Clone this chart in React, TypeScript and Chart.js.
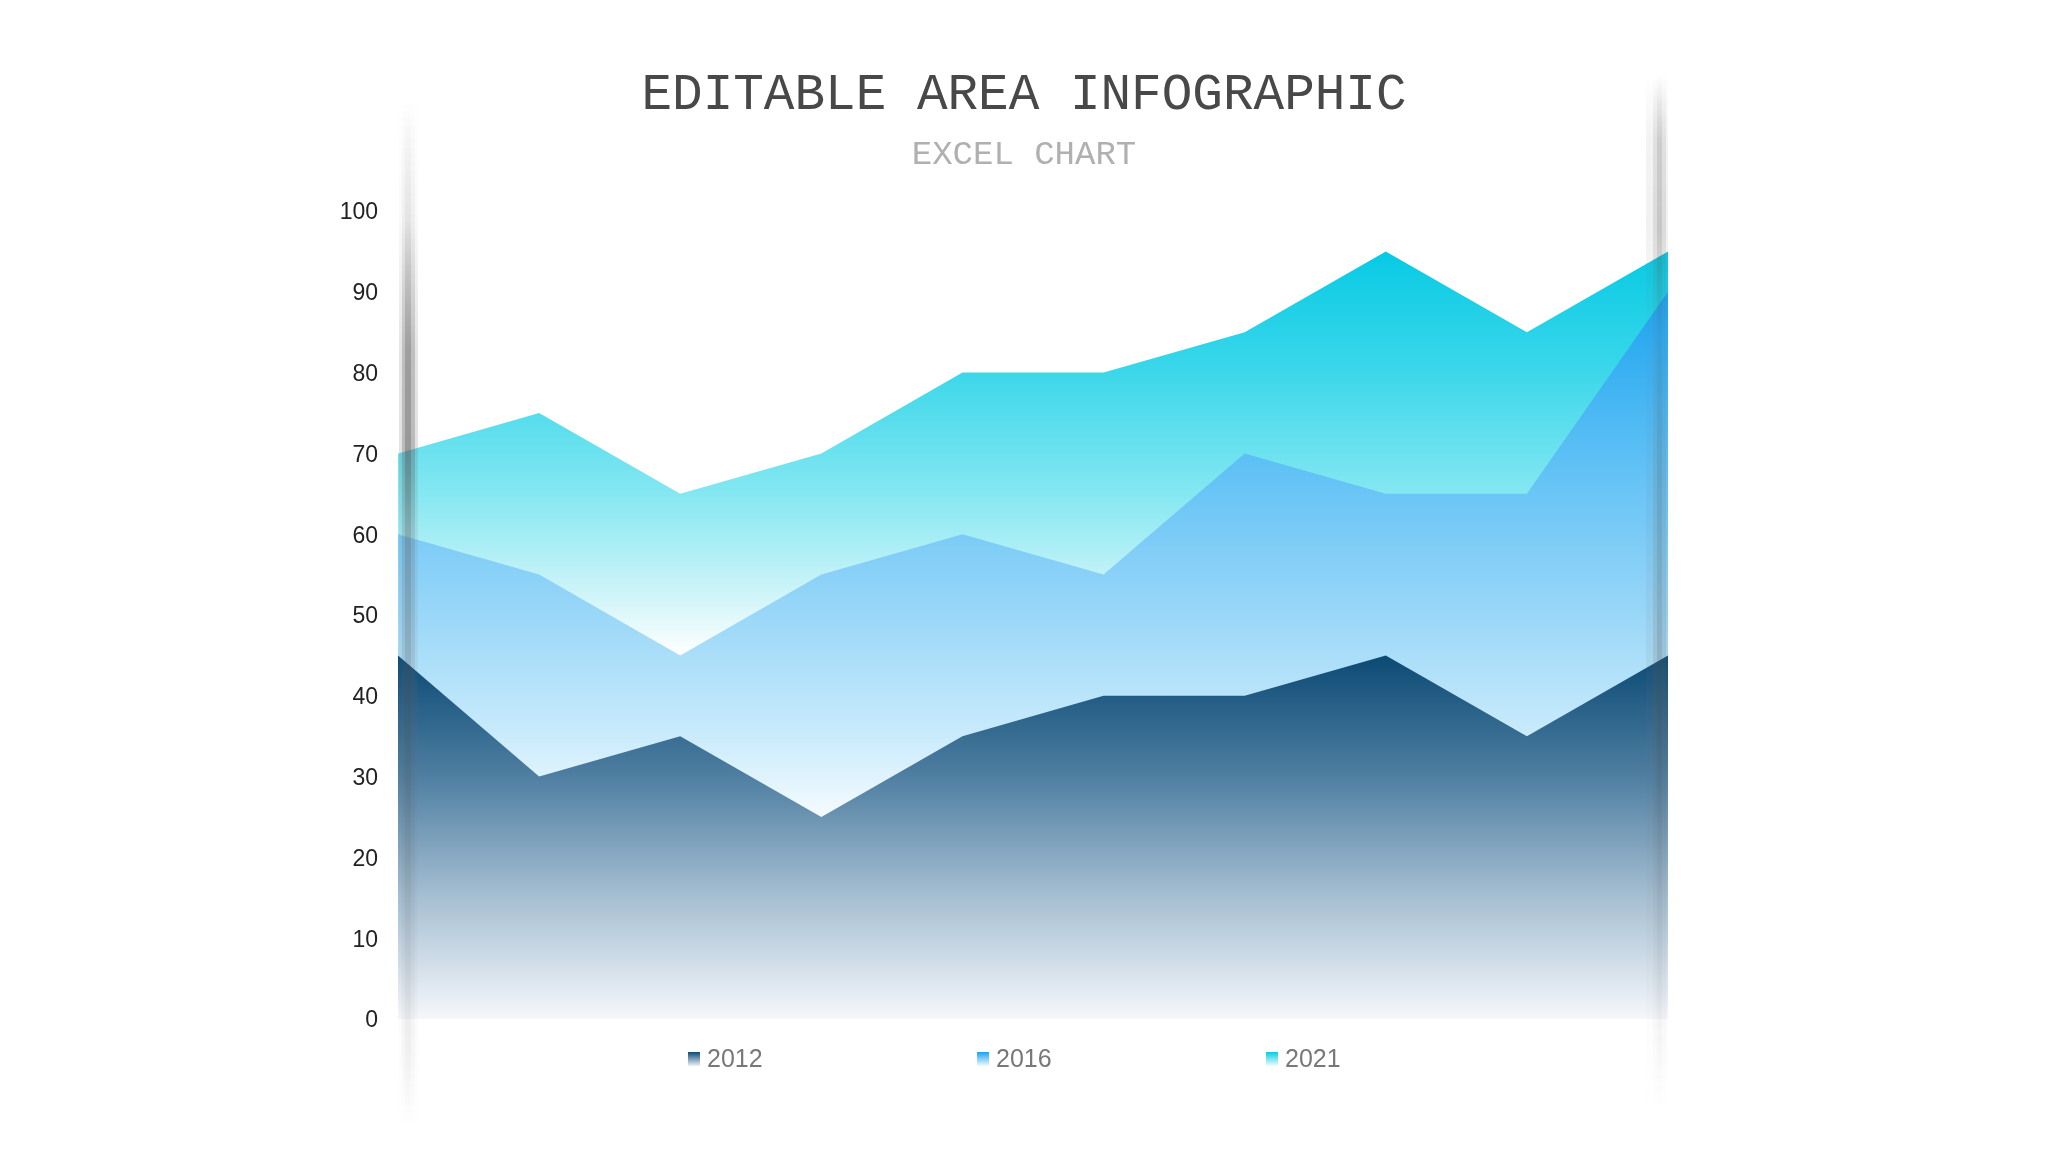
import React, { useEffect, useRef } from "react";
import { Chart, registerables } from "chart.js";

Chart.register(...registerables);

// ---- data ----
const categories = ["P1", "P2", "P3", "P4", "P5", "P6", "P7", "P8", "P9", "P10"];
const values2012 = [45, 30, 35, 25, 35, 40, 40, 45, 35, 45];
const values2016 = [60, 55, 45, 55, 60, 55, 70, 65, 65, 90];
const values2021 = [70, 75, 65, 70, 80, 80, 85, 95, 85, 95];
const seriesNames = ["2012", "2016", "2021"];
const yTickValues = [0, 10, 20, 30, 40, 50, 60, 70, 80, 90, 100];

const titleText = "EDITABLE AREA INFOGRAPHIC";
const subtitleText = "EXCEL CHART";

// gradient stops: [value, color]
const stops2012: [number, string][] = [
  [45, "#0c4a74"],
  [30, "#4f7fa2"],
  [15, "#a6bfd2"],
  [0, "#f5f7fb"],
];
const stops2016: [number, string][] = [
  [90, "#1ba3ef"],
  [70, "#5bbff5"],
  [50, "#9ad7f8"],
  [35, "#caebfb"],
  [25, "#f5fbff"],
];
const stops2021: [number, string][] = [
  [95, "#07cae4"],
  [80, "#3cd7ea"],
  [65, "#85e7f1"],
  [52, "#d2f5f9"],
  [45, "#ffffff"],
];
const legendStops = [
  ["#0c4a74", "#eef3f8"],
  ["#1ba3ef", "#f0faff"],
  ["#07cae4", "#f0fdff"],
];

function makeGradient(stops: [number, string][]) {
  return (context: any) => {
    const chart = context.chart;
    const area = chart.chartArea;
    if (!area) return "rgba(0,0,0,0)";
    const y = chart.scales.y;
    const v0 = stops[0][0];
    const v1 = stops[stops.length - 1][0];
    const g = chart.ctx.createLinearGradient(0, y.getPixelForValue(v0), 0, y.getPixelForValue(v1));
    stops.forEach(([v, c]) => g.addColorStop((v - v0) / (v1 - v0), c));
    return g;
  };
}

// decorative gray shadow bars at both edges of the plot
const edgeBars = {
  id: "edgeBars",
  afterDatasetsDraw(chart: any) {
    const { ctx, chartArea } = chart;
    const drawBar = (x: number, w: number, stops: [number, number][], mult: number, color: string) => {
      const y0 = stops[0][0];
      const y1 = stops[stops.length - 1][0];
      const g = ctx.createLinearGradient(0, y0, 0, y1);
      stops.forEach(([yy, a]) => g.addColorStop((yy - y0) / (y1 - y0), `rgba(${color},${a * mult})`));
      ctx.fillStyle = g;
      ctx.fillRect(x, y0, w, y1 - y0);
    };
    ctx.save();
    const L = chartArea.left;
    const leftStops: [number, number][] = [
      [100, 0], [220, 0.15], [350, 0.6], [450, 0.65], [530, 0.4], [700, 0.28], [900, 0.14], [1050, 0.08], [1125, 0],
    ];
    drawBar(L + 1, 19, leftStops, 0.3, "110,110,110");
    drawBar(L + 4, 13, leftStops, 0.45, "90,90,90");
    drawBar(L + 7, 6, leftStops, 0.45, "70,70,70");
    const R = chartArea.right;
    const rightStops: [number, number][] = [
      [75, 0], [140, 0.28], [230, 0.32], [330, 0.12], [480, 0.25], [700, 0.32], [860, 0.16], [1000, 0.08], [1110, 0],
    ];
    drawBar(R - 22, 22, rightStops, 0.3, "110,110,110");
    drawBar(R - 15, 13, rightStops, 0.45, "90,90,90");
    drawBar(R - 11, 5, rightStops, 0.45, "70,70,70");
    ctx.restore();
  },
};

// spaced legend drawn below the plot
const spacedLegend = {
  id: "spacedLegend",
  afterDraw(chart: any) {
    const { ctx } = chart;
    const startX = chart.width / 2 - 336;
    const spacing = 289;
    const cy = 1059;
    ctx.save();
    ctx.font = "25px 'Liberation Sans', Arial, sans-serif";
    ctx.textBaseline = "middle";
    ctx.textAlign = "left";
    chart.data.datasets.forEach((ds: any, i: number) => {
      const x = startX + i * spacing;
      const g = ctx.createLinearGradient(0, cy - 7, 0, cy + 7);
      g.addColorStop(0, legendStops[i][0]);
      g.addColorStop(1, legendStops[i][1]);
      ctx.fillStyle = g;
      ctx.fillRect(x, cy - 7, 12, 14);
      ctx.fillStyle = "#787878";
      ctx.fillText(ds.label, x + 19, cy + 1);
    });
    ctx.restore();
  },
};

export default function App() {
  const canvasRef = useRef<HTMLCanvasElement | null>(null);

  useEffect(() => {
    if (!canvasRef.current) return;
    const chart = new Chart(canvasRef.current, {
      type: "line",
      data: {
        labels: categories,
        datasets: [
          { label: seriesNames[0], data: values2012, backgroundColor: makeGradient(stops2012) as any },
          { label: seriesNames[1], data: values2016, backgroundColor: makeGradient(stops2016) as any },
          { label: seriesNames[2], data: values2021, backgroundColor: makeGradient(stops2021) as any },
        ].map((d) => ({
          ...d,
          fill: "origin",
          borderWidth: 0,
          borderColor: "rgba(0,0,0,0)",
          pointRadius: 0,
          pointHoverRadius: 0,
          tension: 0,
        })),
      },
      options: {
        responsive: false,
        animation: false,
        layout: { padding: { left: 335, right: 335, top: 0, bottom: 133 } },
        plugins: {
          legend: { display: false },
          tooltip: { enabled: false },
          title: {
            display: true,
            text: titleText,
            color: "#484848",
            font: { family: "'Liberation Mono', 'Courier New', monospace", size: 51, weight: "normal" },
            padding: { top: 65, bottom: 8 },
          },
          subtitle: {
            display: true,
            text: subtitleText,
            color: "#b0b0b0",
            font: { family: "'Liberation Mono', 'Courier New', monospace", size: 34, weight: "normal" },
            padding: { top: 0, bottom: 36 },
          },
        },
        scales: {
          x: { type: "category", display: false, offset: false },
          y: {
            position: "left",
            min: 0,
            max: 100,
            afterFit: (scale: any) => {
              scale.width = 63;
            },
            afterBuildTicks: (scale: any) => {
              scale.ticks = yTickValues.map((v) => ({ value: v }));
            },
            ticks: {
              color: "#222222",
              font: { family: "'Liberation Sans', Arial, sans-serif", size: 23 },
              padding: 20,
              labelOffset: 2,
            },
            grid: { display: false, drawTicks: false },
            border: { display: false },
          },
          yRightSpacer: {
            position: "right",
            min: 0,
            max: 100,
            afterFit: (scale: any) => {
              scale.width = 45;
            },
            ticks: { display: false },
            grid: { display: false, drawTicks: false },
            border: { display: false },
          },
        },
      },
      plugins: [edgeBars, spacedLegend],
    });
    return () => chart.destroy();
  }, []);

  return (
    <div style={{ position: "absolute", left: 0, top: 0, width: 2048, height: 1152, background: "#ffffff" }}>
      <canvas ref={canvasRef} width={2048} height={1152} />
    </div>
  );
}
